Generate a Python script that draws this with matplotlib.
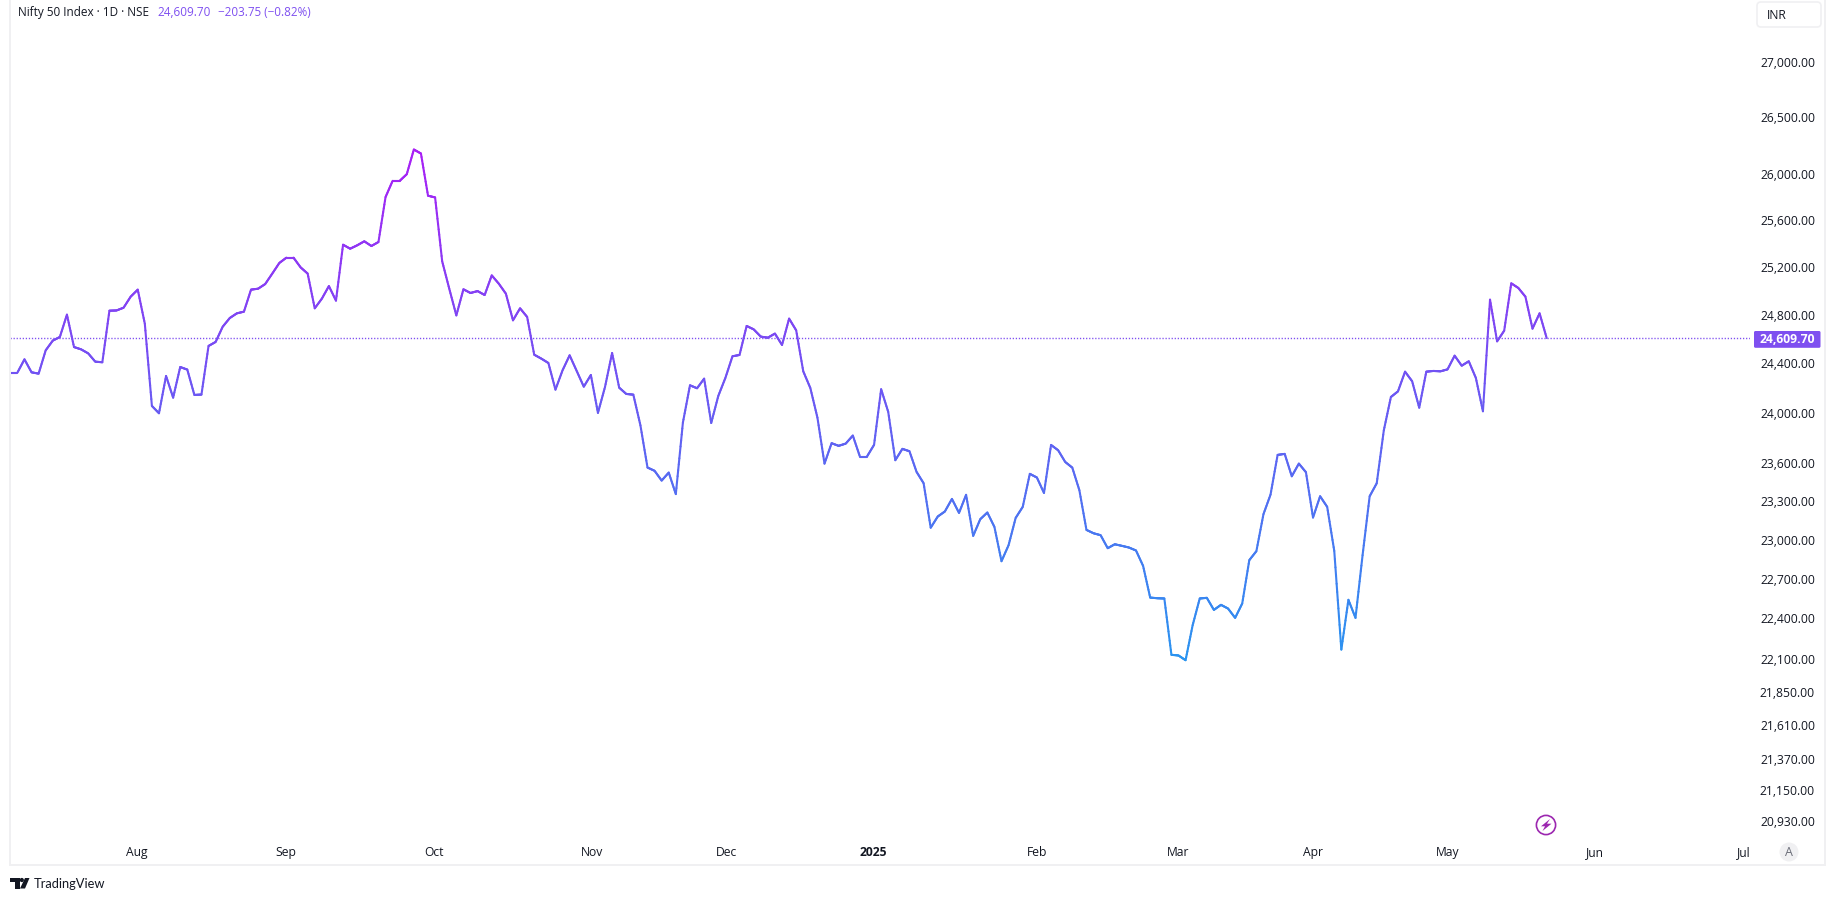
from matplotlib import pyplot as plt
from matplotlib.collections import LineCollection
from matplotlib.colors import LinearSegmentedColormap
from matplotlib.patches import Circle, FancyBboxPatch, Polygon, Rectangle
from matplotlib.ticker import FuncFormatter, NullLocator
import numpy as np

CLOSES = [
    24325, 24325, 24434, 24328, 24317, 24508, 24588, 24618, 24803, 24535,
    24516, 24483, 24415, 24410, 24836, 24838, 24861, 24953, 25012, 24728,
    24055, 23996, 24298, 24122, 24371, 24350, 24144, 24147, 24544, 24577,
    24703, 24775, 24814, 24828, 25012, 25020, 25059, 25147, 25237, 25282,
    25282, 25200, 25147, 24856, 24936, 25042, 24920, 25392, 25358, 25387,
    25421, 25381, 25415, 25801, 25942, 25942, 26000, 26216, 26181, 25813,
    25798, 25251, 25020, 24797, 25015, 24984, 25000, 24967, 25132, 25062,
    24978, 24756, 24856, 24784, 24472, 24440, 24404, 24187, 24344, 24467,
    24339, 24211, 24306, 23999, 24209, 24486, 24203, 24152, 24146, 23899,
    23563, 23537, 23460, 23523, 23354, 23921, 24222, 24198, 24276, 23918,
    24136, 24282, 24459, 24470, 24709, 24681, 24621, 24612, 24646, 24552,
    24770, 24673, 24336, 24200, 23961, 23594, 23756, 23735, 23753, 23817,
    23650, 23650, 23743, 24190, 24007, 23621, 23711, 23692, 23529, 23439,
    23092, 23179, 23218, 23316, 23207, 23348, 23029, 23158, 23210, 23098,
    22834, 22957, 23168, 23254, 23513, 23484, 23363, 23742, 23700, 23607,
    23562, 23384, 23075, 23049, 23034, 22934, 22964, 22952, 22939, 22916,
    22798, 22557, 22552, 22550, 22128, 22123, 22088, 22349, 22550, 22555,
    22464, 22502, 22474, 22404, 22512, 22842, 22911, 23197, 23350, 23663,
    23671, 23494, 23594, 23526, 23171, 23337, 23254, 22913, 22167, 22540,
    22404, 22880, 23337, 23439, 23859, 24127, 24173, 24333, 24255, 24041,
    24333, 24339, 24336, 24352, 24464, 24382, 24418, 24282, 24012, 24928,
    24582, 24670, 25065, 25026, 24953, 24687, 24814, 24609.7,
]

MONTHS = ['Aug', 'Sep', 'Oct', 'Nov', 'Dec', '2025', 'Feb', 'Mar', 'Apr', 'May', 'Jun', 'Jul']
MONTH_BARS = [17.9, 38.9, 59.9, 82.1, 101.1, 121.9, 145, 164.9, 184, 203, 223.8, 244.8]
PRICE_TICKS = [
    27000, 26500, 26000, 25600, 25200, 24800, 24400, 24000, 23600, 23300,
    23000, 22700, 22400, 22100, 21850, 21610, 21370, 21150, 20930,
]

PURPLE = '#7e4ff0'
FRAME = '#f0f0f2'
INK = '#131722'
FONT = 'Open Sans'
W, H = 1835, 901

plt.rcParams['font.family'] = [FONT, 'DejaVu Sans']
fig = plt.figure(figsize=(W / 100, H / 100), dpi=100, facecolor='white')

# chart area, in pixels of the final picture
LEFT, RIGHT, BOTTOM = 10.3, 1750, 838
ax = fig.add_axes([LEFT / W, (H - BOTTOM) / H, (RIGHT - LEFT) / W, BOTTOM / H])
for spine in ax.spines.values():
    spine.set_visible(False)
ax.patch.set_alpha(0)

bars = np.arange(len(CLOSES))
closes = np.array(CLOSES, dtype=float)

# the scale is logarithmic, pinned on where 27,000 and 20,930 sit
px_per_ln = (820.7 - 61.7) / np.log(27000 / 20930)
ax.set_yscale('log')
ax.set_ylim(27000 * np.exp(-(BOTTOM - 61.7) / px_per_ln), 27000 * np.exp(61.7 / px_per_ln))
ax.set_xlim(0, (RIGHT - LEFT) / 7.08)

# vertical gradient on the line: cut each segment in short pieces
gradient = LinearSegmentedColormap.from_list('mountain', ['#a81ff5', '#2a94f0'])
pieces, shades = [], []
for i in range(len(closes) - 1):
    xs = np.linspace(bars[i], bars[i + 1], 13)
    ys = np.exp(np.linspace(np.log(closes[i]), np.log(closes[i + 1]), 13))
    for j in range(12):
        pieces.append([(xs[j], ys[j]), (xs[j + 1], ys[j + 1])])
        shades.append((np.log(closes.max()) - np.log((ys[j] + ys[j + 1]) / 2)) / (np.log(closes.max()) - np.log(closes.min())))
ax.add_collection(LineCollection(pieces, colors=gradient(shades), linewidths=1.5, capstyle='round'))

ax.axhline(closes[-1], color=PURPLE, lw=1.0, linestyle=(0, (0.9, 1.3)), zorder=1)

ax.yaxis.tick_right()
ax.set_yticks(PRICE_TICKS)
ax.yaxis.set_major_formatter(FuncFormatter(lambda v, _: f'{v:,.2f}'))
ax.yaxis.set_minor_locator(NullLocator())
ax.tick_params(axis='y', length=0, pad=46.8, labelsize=8.7, labelcolor=INK)
for label in ax.get_yticklabels():
    label.set_ha('right')

ax.set_xticks(MONTH_BARS)
ax.set_xticklabels(MONTHS)
ax.tick_params(axis='x', length=0, pad=6, labelsize=8.7, labelcolor=INK)
ax.get_xticklabels()[MONTHS.index('2025')].set_fontweight('bold')

# everything around the chart goes on an overlay in pixel coordinates
top = fig.add_axes([0, 0, 1, 1], facecolor='none')
top.set_xlim(0, W)
top.set_ylim(H, 0)
top.axis('off')

top.add_patch(Rectangle((9, 0), 2, 866, color=FRAME, lw=0))
top.add_patch(Rectangle((1824, 0), 2, 866, color=FRAME, lw=0))
top.add_patch(Rectangle((9, 864), 1817, 2, color=FRAME, lw=0))

top.text(18, 12.5, 'Nifty 50 Index · 1D · NSE', fontsize=8.5, color=INK, va='center')
top.text(157.5, 12.5, '24,609.70', fontsize=8.5, color=PURPLE, va='center')
top.text(218, 12.5, '−203.75 (−0.82%)', fontsize=8.4, color=PURPLE, va='center')

top.add_patch(FancyBboxPatch((1757, 2), 64, 25, boxstyle='round,pad=0,rounding_size=4',
                             fc='white', ec=FRAME, lw=1.2))
top.text(1767, 15.5, 'INR', fontsize=8.7, color=INK, va='center')

top.add_patch(FancyBboxPatch((1754, 331), 66.5, 16.8, boxstyle='round,pad=0,rounding_size=1.5',
                             fc=PURPLE, ec='none'))
top.text(1815, 339.4, '24,609.70', fontsize=8.7, color='white', weight='bold', ha='right', va='center')

top.add_patch(Circle((1546, 825), 9.6, fc='white', ec='#9c27b0', lw=1.2))
top.add_patch(Polygon([(1550, 819), (1541, 826.3), (1545, 826.3), (1542.5, 831),
                       (1551.5, 823.7), (1547, 823.7)], fc='#9c27b0', ec='none'))

top.add_patch(Circle((1789, 852), 9.5, fc=FRAME, ec='none'))
top.text(1789, 852.5, 'A', fontsize=9, color='#6a6d78', ha='center', va='center')

# TradingView mark
top.add_patch(Polygon([(10, 878), (19.5, 878), (19.5, 888.5), (15, 888.5), (15, 882), (10, 882)], fc=INK, ec='none'))
top.add_patch(Circle((21.8, 880), 2.1, fc=INK, ec='none'))
top.add_patch(Polygon([(25, 878), (29.5, 878), (25, 888.5), (20, 888.5)], fc=INK, ec='none'))
top.text(33.5, 883.5, 'TradingView', fontsize=9.3, color=INK, family='Lato', va='center')

fig.savefig('out.png', dpi=100)
